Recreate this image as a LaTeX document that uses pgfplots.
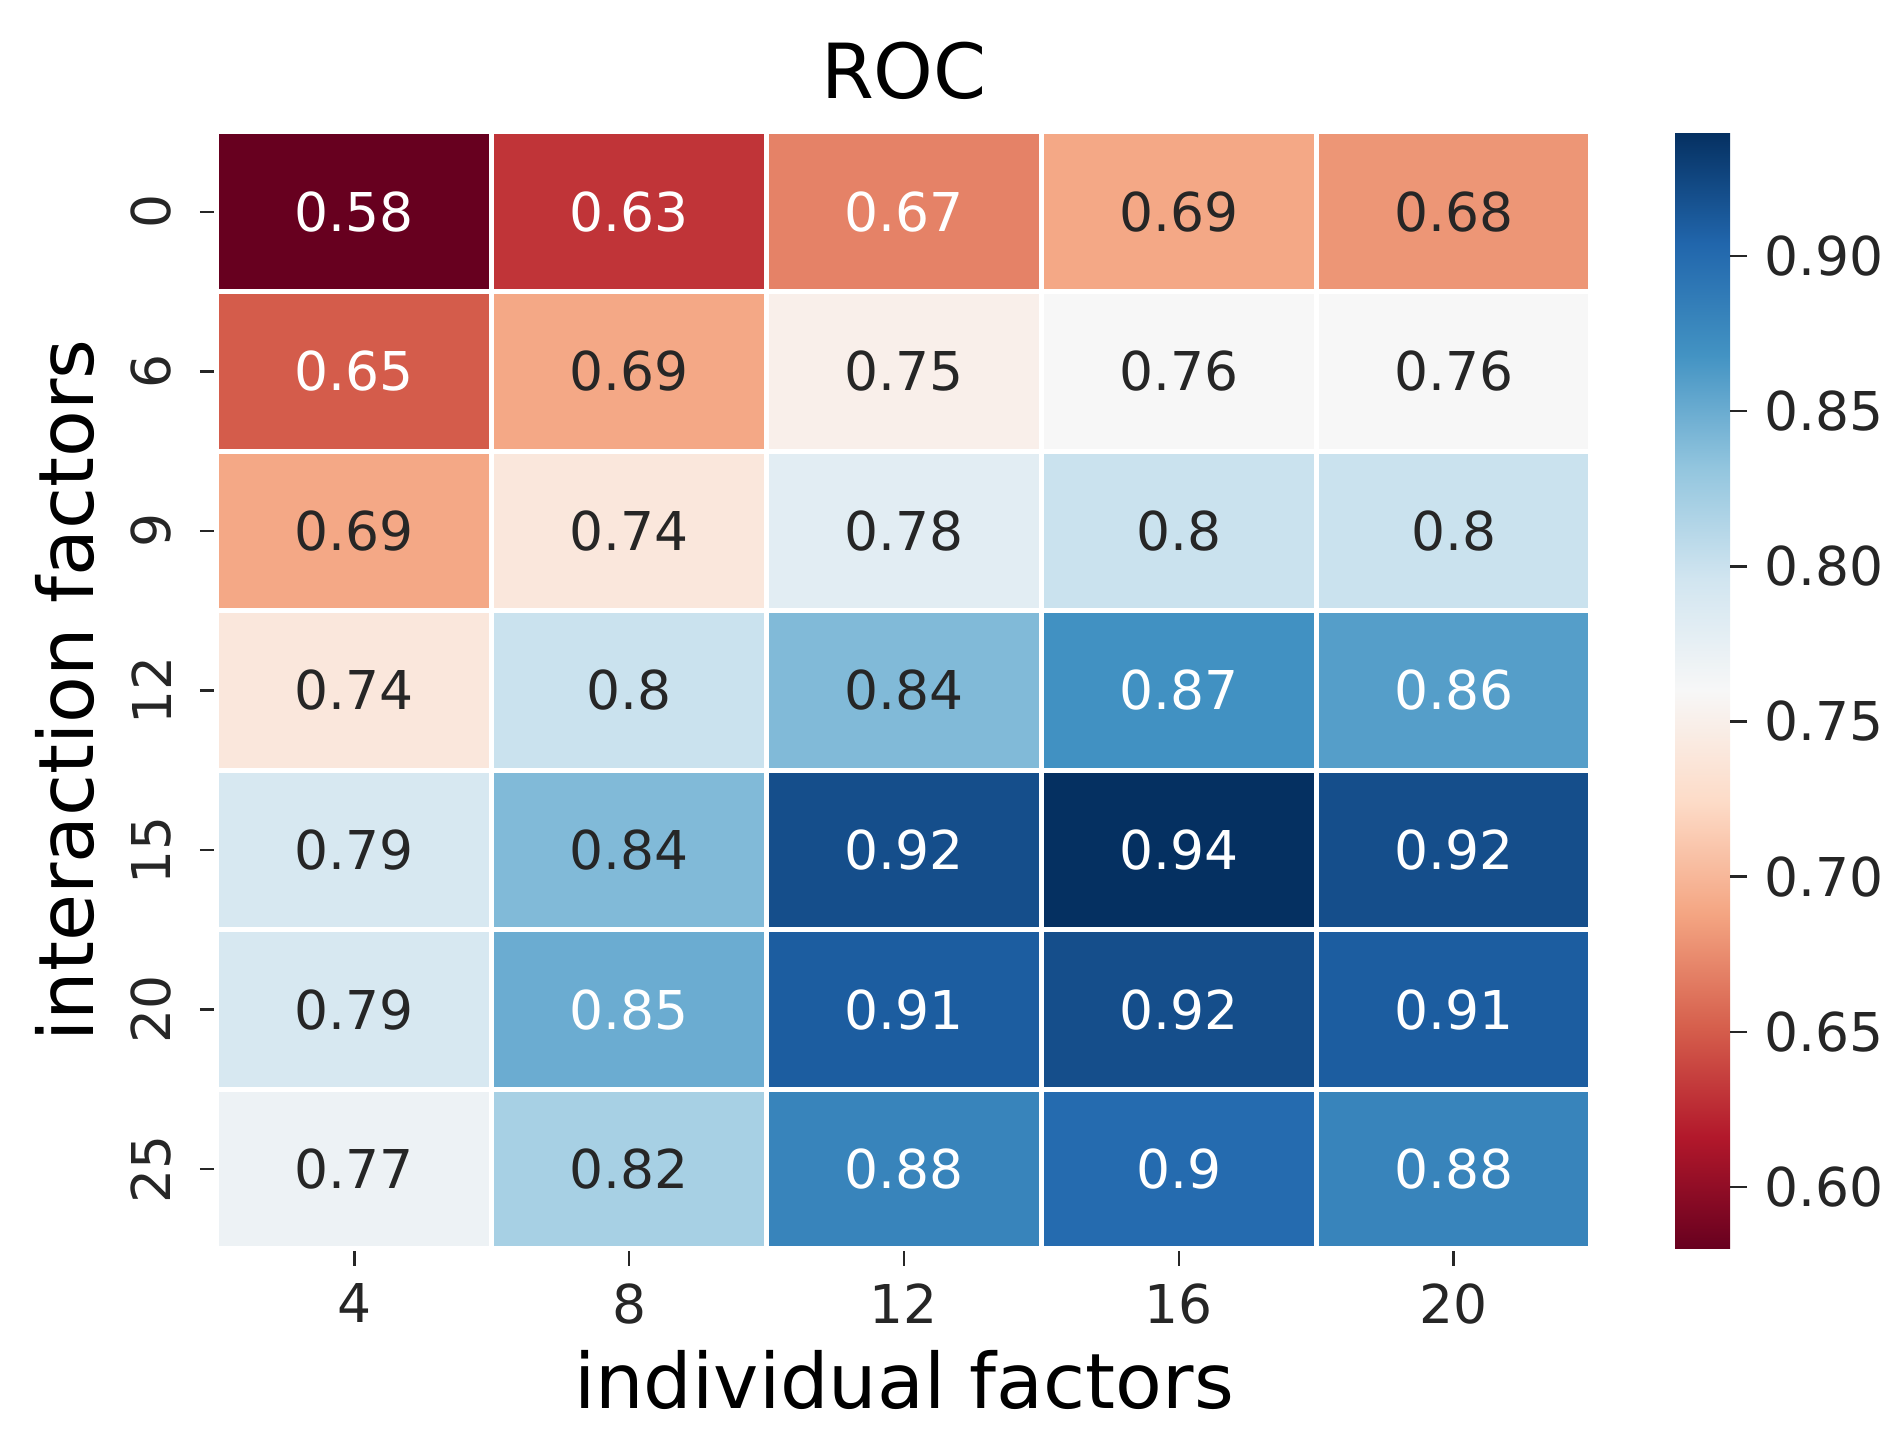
\documentclass[border=0pt]{standalone}
\usepackage{pgfplots}
\pgfplotsset{compat=1.18}
\usepackage{pgfplotstable}
\usepackage{fontspec}
\setmainfont{DejaVu Sans}
\definecolor{txt}{HTML}{262626}
\pgfplotstableread{
x y v lab tc
0 0 0.58 0.58 1
1 0 0.63 0.63 1
2 0 0.67 0.67 1
3 0 0.69 0.69 0
4 0 0.68 0.68 0
0 1 0.65 0.65 1
1 1 0.69 0.69 0
2 1 0.75 0.75 0
3 1 0.76 0.76 0
4 1 0.76 0.76 0
0 2 0.69 0.69 0
1 2 0.74 0.74 0
2 2 0.78 0.78 0
3 2 0.80 0.8 0
4 2 0.80 0.8 0
0 3 0.74 0.74 0
1 3 0.80 0.8 0
2 3 0.84 0.84 0
3 3 0.87 0.87 1
4 3 0.86 0.86 1
0 4 0.79 0.79 0
1 4 0.84 0.84 0
2 4 0.92 0.92 1
3 4 0.94 0.94 1
4 4 0.92 0.92 1
0 5 0.79 0.79 0
1 5 0.85 0.85 1
2 5 0.91 0.91 1
3 5 0.92 0.92 1
4 5 0.91 0.91 1
0 6 0.77 0.77 0
1 6 0.82 0.82 0
2 6 0.88 0.88 1
3 6 0.90 0.9 1
4 6 0.88 0.88 1
}\data
\begin{document}
\begin{tikzpicture}
\begin{axis}[
  name=ax,
  scale only axis,
  width=274.8pt, height=223.4pt,
  xmin=-0.5, xmax=4.5, ymin=-0.5, ymax=6.5,
  y dir=reverse,
  axis on top,
  colormap={rdbu}{rgb255=(103,0,31) rgb255=(178,24,43) rgb255=(214,96,77) rgb255=(244,165,130) rgb255=(253,219,199) rgb255=(247,247,247) rgb255=(209,229,240) rgb255=(146,197,222) rgb255=(67,147,195) rgb255=(33,102,172) rgb255=(5,48,97)},
  point meta min=0.58, point meta max=0.94,
  xtick={0,1,2,3,4}, xticklabels={4,8,12,16,20},
  ytick={0,1,2,3,4,5,6}, yticklabels={0,6,9,12,15,20,25},
  minor xtick={0.5,1.5,2.5,3.5},
  minor ytick={0.5,1.5,2.5,3.5,4.5,5.5},
  xminorgrids, yminorgrids,
  minor grid style={white, line width=1pt},
  minor tick length=0pt,
  xtick pos=lower, ytick pos=left,
  tick align=outside,
  major tick length=3.4pt,
  tick style={txt, line width=0.5pt},
  axis line style={white, line width=1pt},
  tick label style={font=\fontsize{10.7}{12}\selectfont, text=txt},
  yticklabel style={rotate=90, anchor=south, yshift=2.2pt},
  xlabel={individual factors},
  ylabel={interaction factors},
  label style={font=\fontsize{15.3}{17}\selectfont, text=black},
  xlabel style={at={(axis description cs:0.5,0)}, anchor=center, yshift=-26.2pt},
  ylabel style={at={(axis description cs:0,0.5)}, anchor=center, yshift=30.4pt},
  title={ROC},
  title style={font=\fontsize{15.2}{17}\selectfont, at={(axis description cs:0.5,1)}, anchor=base, yshift=0.7pt},
  colorbar,
  colorbar style={
    at={(parent axis.north east)}, anchor=north west, xshift=8.3pt,
    width=11pt,
    ytick={0.6,0.65,0.7,0.75,0.8,0.85,0.9},
    yticklabels={0.60,0.65,0.70,0.75,0.80,0.85,0.90},
    ytick pos=right, yticklabel pos=right,
    tick align=outside,
    major tick length=3.4pt,
    tick style={txt, line width=0.5pt},
    axis line style={draw=none},
    yticklabel style={font=\fontsize{10.7}{12}\selectfont, text=txt},
  },
]
\addplot[matrix plot*, mesh/cols=5, point meta=explicit] table[x=x, y=y, meta=v] {\data};
\addplot[draw=none, mark=none, point meta=explicit symbolic, nodes near coords, nodes near coords align=center,
  every node near coord/.append style={text=white, font=\fontsize{10.7}{12}\selectfont},
  restrict expr to domain={\thisrow{tc}}{0.5:1.5}] table[x=x, y=y, meta=lab] {\data};
\addplot[draw=none, mark=none, point meta=explicit symbolic, nodes near coords, nodes near coords align=center,
  every node near coord/.append style={text=txt, font=\fontsize{10.7}{12}\selectfont},
  restrict expr to domain={\thisrow{tc}}{-0.5:0.5}] table[x=x, y=y, meta=lab] {\data};
\end{axis}
\pgfresetboundingbox
\path ([xshift=-43.4pt,yshift=-37.6pt]ax.south west) rectangle ([xshift=62pt,yshift=26.4pt]ax.north east);
\end{tikzpicture}
\end{document}
